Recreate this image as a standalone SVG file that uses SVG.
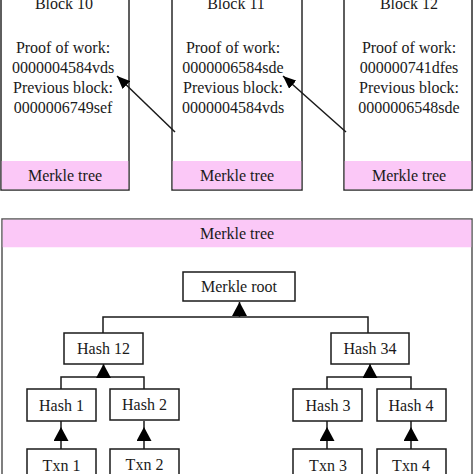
<svg xmlns="http://www.w3.org/2000/svg" width="474" height="474" viewBox="0 0 474 474" font-family="'Liberation Serif', 'Times New Roman', serif">
<style>
text{font-family:"Liberation Serif","Times New Roman",serif;font-size:16px;fill:#1a1a1a;text-anchor:middle}
.blk{fill:#fff;stroke:#2a2a2a;stroke-width:1.5}
.pink{fill:#fbc8f7}
.nd{fill:#fff;stroke:#1a1a1a;stroke-width:1.5}
.ln{fill:none;stroke:#1a1a1a;stroke-width:1.5}
</style>
<defs>
<marker id="tri" viewBox="0 0 14 15" refX="14" refY="7.5" markerWidth="14" markerHeight="15" markerUnits="userSpaceOnUse" orient="auto"><path d="M0,0 L14,7.5 L0,15 z" fill="#000"/></marker>
<marker id="arr" viewBox="0 0 12 10" refX="12" refY="5" markerWidth="13" markerHeight="11" markerUnits="userSpaceOnUse" orient="auto"><path d="M0,0 L12,5 L0,10 z" fill="#000"/></marker>
</defs>
<rect width="474" height="474" fill="#fff"/>
<g id="block10">
<rect class="blk" x="1" y="-10" width="128" height="200"/>
<rect class="pink" x="1.75" y="161" width="126.5" height="28.25"/>
<text x="64" y="9">Block 10</text>
<text x="63" y="53">Proof of work:</text>
<text x="63" y="73">0000004584vds</text>
<text x="63" y="93">Previous block:</text>
<text x="63" y="113">0000006749sef</text>
<text x="65" y="181">Merkle tree</text>
</g>
<g id="block11">
<rect class="blk" x="172" y="-10" width="130" height="200"/>
<rect class="pink" x="172.75" y="161" width="128.5" height="28.25"/>
<text x="236" y="9">Block 11</text>
<text x="233" y="53">Proof of work:</text>
<text x="233" y="73">0000006584sde</text>
<text x="233" y="93">Previous block:</text>
<text x="233" y="113">0000004584vds</text>
<text x="237" y="181">Merkle tree</text>
</g>
<g id="block12">
<rect class="blk" x="344" y="-10" width="128" height="200"/>
<rect class="pink" x="344.75" y="161" width="126.5" height="28.25"/>
<text x="409" y="9">Block 12</text>
<text x="409" y="53">Proof of work:</text>
<text x="409" y="73">000000741dfes</text>
<text x="409" y="93">Previous block:</text>
<text x="409" y="113">0000006548sde</text>
<text x="409" y="181">Merkle tree</text>
</g>
<g id="panel">
<rect x="2" y="219" width="470" height="270" fill="#fff" stroke="#555" stroke-width="1.5"/>
<rect class="pink" x="2.75" y="219.75" width="468.5" height="27.5"/>
<text x="237" y="239">Merkle tree</text>
</g>
<g id="connectors">
<path class="ln" d="M175,132 L117,76" marker-end="url(#arr)"/>
<path class="ln" d="M346,132 L283,76" marker-end="url(#arr)"/>
<path class="ln" d="M103,333 V317 H368 V333"/>
<path class="ln" d="M239.5,317 V302" marker-end="url(#tri)"/>
<path class="ln" d="M61,389 V377 H144 V389"/>
<path class="ln" d="M103.5,377 V364" marker-end="url(#tri)"/>
<path class="ln" d="M327,389 V377 H411 V389"/>
<path class="ln" d="M370,377 V364" marker-end="url(#tri)"/>
<path class="ln" d="M61,449 V427 V421" marker-mid="url(#tri)"/>
<path class="ln" d="M144,449 V427 V421" marker-mid="url(#tri)"/>
<path class="ln" d="M327,449 V427 V421" marker-mid="url(#tri)"/>
<path class="ln" d="M411,449 V427 V421" marker-mid="url(#tri)"/>
</g>
<g id="merkle-root"><rect class="nd" x="183" y="272" width="112" height="29"/><text x="239" y="292">Merkle root</text></g>
<g id="hash12"><rect class="nd" x="64" y="333" width="79" height="31"/><text x="103.5" y="354">Hash 12</text></g>
<g id="hash34"><rect class="nd" x="331" y="333" width="78" height="31"/><text x="370" y="354">Hash 34</text></g>
<g id="hash1"><rect class="nd" x="27" y="389" width="69" height="32"/><text x="61.5" y="411">Hash 1</text></g>
<g id="hash2"><rect class="nd" x="110" y="389" width="69" height="31"/><text x="144.5" y="410">Hash 2</text></g>
<g id="hash3"><rect class="nd" x="293" y="389" width="69" height="32"/><text x="328" y="411">Hash 3</text></g>
<g id="hash4"><rect class="nd" x="377" y="389" width="69" height="32"/><text x="411" y="411">Hash 4</text></g>
<g id="txn1"><rect class="nd" x="27" y="449" width="69" height="40"/><text x="61.5" y="471">Txn 1</text></g>
<g id="txn2"><rect class="nd" x="110" y="449" width="69" height="40"/><text x="144.5" y="470">Txn 2</text></g>
<g id="txn3"><rect class="nd" x="293" y="449" width="69" height="40"/><text x="328" y="471">Txn 3</text></g>
<g id="txn4"><rect class="nd" x="377" y="449" width="69" height="40"/><text x="411" y="471">Txn 4</text></g>
</svg>
